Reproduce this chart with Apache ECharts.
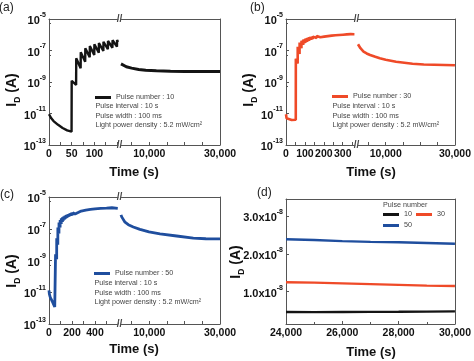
<!DOCTYPE html>
<html><head><meta charset="utf-8">
<script src="https://cdn.jsdelivr.net/npm/echarts@6/dist/echarts.min.js"></script>
<style>html,body{margin:0;padding:0;background:#fff}#c{width:474px;height:361px}</style>
</head><body><div id="c"></div>
<script>
// ---------- data (time in s, current in A) ----------
const logYLabels = [1e-13, 1e-11, 1e-9, 1e-7, 1e-5];
const aLeftLabels = [0, 50, 100];
const aLeftTicks = [0, 25, 50, 75, 100, 125, 150];
const bLeftLabels = [0, 100, 200, 300];
const bLeftTicks = [0, 50, 100, 150, 200, 250, 300, 350];
const cLeftLabels = [0, 200, 400];
const cLeftTicks = [0, 100, 200, 300, 400, 500, 600];
const rightLabels = [10000, 30000];
const rightTicks = [5000, 10000, 15000, 20000, 25000, 30000];
const dXLabels = [24000, 26000, 28000, 30000];
const dYLabels = [1e-8, 2e-8, 3e-8];

const blackLeft = [
 [0,9e-12],[5,5e-12],[10,3.3e-12],[20,1.9e-12],[30,1.2e-12],[40,8.5e-13],[49.7,7e-13],
 [50,1.2e-9],[59.7,6.5e-10],[60,3.2e-8],[69.7,7.4e-9],[70,7.7e-8],[79.7,1.95e-8],
 [80,1.4e-7],[89.7,3.7e-8],[90,1.9e-7],[99.7,5.2e-8],[100,2.5e-7],[109.7,7.2e-8],
 [110,3e-7],[119.7,9.3e-8],[120,3.6e-7],[129.7,1.2e-7],[130,4e-7],[139.7,1.5e-7],
 [140,4.5e-7],[149.7,1.75e-7],[150,4.7e-7],[152,3.5e-7]
];
const blackRight = [
 [2000,1.4e-8],[2500,1.15e-8],[3500,9.3e-9],[5000,7.6e-9],[7000,6.3e-9],[9000,5.6e-9],
 [12000,5.1e-9],[16000,4.8e-9],[20000,4.7e-9],[24000,4.6e-9],[27000,4.65e-9],[30000,4.7e-9]
];
const redLeft = [
 [0,9e-12],[3,5e-12],[8,4e-12],[30,3.9e-12],[51.7,4e-12],
 [52,3e-8],[61.7,1.5e-8],[62,1.7e-7],[71.7,6e-8],[72,3.2e-7],[81.7,1.4e-7],
 [82,4.2e-7],[91.7,2.3e-7],[92,5e-7],[101.7,3e-7],[102,5.6e-7],[111.7,3.6e-7],
 [112,6.2e-7],[121.7,4.2e-7],[122,6.8e-7],[131.7,4.8e-7],[132,7.2e-7],[141.7,5.3e-7],
 [142,7.6e-7],[151.7,5.8e-7],[152,8e-7],[161.7,6.2e-7],[162,8.4e-7],[171.7,6.6e-7],
 [172,8.7e-7],[181.7,7e-7],[182,9e-7],[191.7,7.3e-7],[192,9.3e-7],[201.7,7.6e-7],
 [202,9.6e-7],[211.7,7.9e-7],[212,9.9e-7],[221.7,8.2e-7],[222,1.02e-6],[231.7,8.5e-7],
 [232,1.05e-6],[241.7,8.8e-7],[242,1.08e-6],[251.7,9.1e-7],[252,1.1e-6],[261.7,9.3e-7],
 [262,1.12e-6],[271.7,9.5e-7],[272,1.14e-6],[281.7,9.7e-7],[282,1.16e-6],[291.7,9.9e-7],
 [292,1.18e-6],[301.7,1.01e-6],[302,1.2e-6],[311.7,1.03e-6],[312,1.22e-6],[321.7,1.05e-6],
 [322,1.24e-6],[331.7,1.07e-6],[332,1.26e-6],[341.7,1.09e-6],[342,1.28e-6],[352,1.12e-6],[362,1.08e-6]
];
const redRight = [
 [2000,2.5e-7],[2300,1.9e-7],[2700,1.4e-7],[3600,8.5e-8],[4500,6.5e-8],[5500,5.2e-8],
 [7000,4e-8],[8300,3.2e-8],[10000,2.6e-8],[13000,1.95e-8],[17750,1.45e-8],[21000,1.3e-8],
 [24000,1.25e-8],[27000,1.2e-8],[30000,1.15e-8]
];
const blueLeft = [
 [0,1.3e-11],[3,8e-12],[10,5e-12],[20,3.5e-12],[30,2.5e-12],[40,1.7e-12],[50,1.2e-12],[56.7,1.1e-12],
 [57,2.5e-9],[66.7,1.2e-9],[67,2.5e-8],[76.7,1e-8],[77,1.2e-7],[86.7,5e-8],
 [87,2.5e-7],[96.7,1.2e-7],[97,3.6e-7],[106.7,2e-7],[107,4.5e-7],[116.7,2.7e-7],
 [117,5.3e-7],[126.7,3.3e-7],[127,6e-7],[136.7,3.9e-7],[137,6.6e-7],[146.7,4.4e-7],
 [147,7.2e-7],[156.7,5e-7],[157,7.8e-7],[166.7,5.5e-7],[167,8.3e-7],[176.7,6e-7],
 [177,8.8e-7],[186.7,6.5e-7],[187,9.3e-7],[196.7,7e-7],[197,9.8e-7],[206.7,7.5e-7],
 [207,1.02e-6],[216.7,8e-7],[217,1.06e-6],[226.7,8.4e-7],[227,1.1e-6],
 [240,1.1e-6],[280,1.3e-6],[320,1.5e-6],[360,1.65e-6],[400,1.78e-6],[450,1.9e-6],
 [500,2e-6],[547,2.1e-6],[560,2e-6],[598,1.95e-6]
];
const blueRight = [
 [2000,7.5e-7],[2200,5.6e-7],[2470,4.3e-7],[3130,2.6e-7],[4070,1.8e-7],[5480,1.3e-7],
 [7370,9.1e-8],[9920,6.3e-8],[13030,4.7e-8],[17750,3.5e-8],[22450,2.6e-8],[26000,2.35e-8],[30000,2.27e-8]
];
const dBlack = [[24000,4.6e-9],[25000,4.55e-9],[26000,4.6e-9],[27000,4.62e-9],[28000,4.65e-9],[29000,4.7e-9],[30000,4.75e-9]];
const dRed = [[24000,1.25e-8],[25000,1.24e-8],[26000,1.22e-8],[27000,1.2e-8],[28000,1.18e-8],[29000,1.16e-8],[30000,1.15e-8]];
const dBlue = [[24000,2.39e-8],[25000,2.37e-8],[26000,2.34e-8],[27000,2.32e-8],[28000,2.31e-8],[29000,2.29e-8],[30000,2.27e-8]];

// ---------- styling / layout ----------
const FONT = '"Liberation Sans", Arial, sans-serif';
const AX = '#555';
const BLACK = '#141414', RED = '#ef4a28', BLUE = '#1f4e9e';
const TXT = '#444';

const grids = [
 {left:49, top:19, width:69, height:126},
 {left:121, top:19, width:99, height:126},
 {left:286, top:19, width:69, height:126},
 {left:358, top:19, width:99, height:126},
 {left:49, top:197, width:69, height:127},
 {left:121, top:197, width:99, height:127},
 {left:286, top:199, width:171, height:125}
];

const richY = {
 b:{fontSize:11, fontWeight:'bold', fontFamily:FONT, color:'#111', lineHeight:15, verticalAlign:'bottom'},
 s:{fontSize:7, fontWeight:'bold', fontFamily:FONT, color:'#111', lineHeight:7, verticalAlign:'top'}
};
const comma = v => Number(v).toLocaleString('en-US');

function xBottom(g, min, max, labels, ticks, minor){
 return {type:'value', gridIndex:g, position:'bottom', min, max,
  axisLine:{show:true, onZero:false, lineStyle:{color:AX, width:1}},
  axisTick:ticks ? {show:true, inside:true, length:3, customValues:ticks, lineStyle:{color:AX}}
                 : {show:true, inside:true, length:3, lineStyle:{color:AX}},
  minorTick:{show:!!minor, splitNumber:2, length:2, lineStyle:{color:AX}},
  axisLabel:{customValues:labels, margin:4, fontSize:10.5, fontWeight:'bold', fontFamily:FONT, color:'#111', formatter:comma},
  splitLine:{show:false}};
}
function xTop(g, min, max){
 return {type:'value', gridIndex:g, position:'top', min, max,
  axisLine:{show:true, onZero:false, lineStyle:{color:AX, width:1}},
  axisTick:{show:false}, axisLabel:{show:false}, splitLine:{show:false}};
}
function logY(g, pos, labels){
 return {type:'log', logBase:10, gridIndex:g, position:pos, min:1e-13, max:1e-5, interval:2,
  axisLine:{show:true, onZero:false, lineStyle:{color:AX, width:1}},
  axisTick:{show:labels, inside:true, length:3, lineStyle:{color:AX}},
  minorTick:{show:labels, splitNumber:2, length:2, lineStyle:{color:AX}},
  axisLabel:{show:labels, margin:3, rich:richY,
    formatter: v => '{b|10}{s|' + Math.round(Math.log10(v)) + '}'},
  splitLine:{show:false}, minorSplitLine:{show:false}};
}

const xAxis = [
 xBottom(0, 0, 152, aLeftLabels, aLeftTicks), xTop(0, 0, 152),
 xBottom(1, 2000, 30000, rightLabels, rightTicks), xTop(1, 2000, 30000),
 xBottom(2, 0, 365, bLeftLabels, bLeftTicks), xTop(2, 0, 365),
 xBottom(3, 2000, 30000, rightLabels, rightTicks), xTop(3, 2000, 30000),
 xBottom(4, 0, 600, cLeftLabels, cLeftTicks), xTop(4, 0, 600),
 xBottom(5, 2000, 30000, rightLabels, rightTicks), xTop(5, 2000, 30000),
 xBottom(6, 24000, 30000, dXLabels, dXLabels, true), xTop(6, 24000, 30000)
];
xAxis[12].axisTick = {show:true, inside:true, length:3, lineStyle:{color:AX}};
xAxis[12].interval = 2000;
delete xAxis[12].axisLabel.customValues;

const yAxis = [
 logY(0,'left',true), logY(1,'right',false),
 logY(2,'left',true), logY(3,'right',false),
 logY(4,'left',true), logY(5,'right',false),
 {type:'value', gridIndex:6, position:'left', min:1.4e-9, max:3.46e-8,
  axisLine:{show:true, onZero:false, lineStyle:{color:AX}},
  axisTick:{show:true, inside:true, length:3, customValues:dYLabels, lineStyle:{color:AX}},
  axisLabel:{customValues:dYLabels, margin:3, rich:richY,
   formatter: v => '{b|' + (v/1e-8).toFixed(1) + 'x10}{s|-8}'},
  splitLine:{show:false}},
 {type:'value', gridIndex:6, position:'right', min:1.4e-9, max:3.46e-8,
  axisLine:{show:true, onZero:false, lineStyle:{color:AX}},
  axisTick:{show:false}, axisLabel:{show:false}, splitLine:{show:false}}
];

function line(name, data, xi, yi, color, w){
 return {type:'line', name, data, xAxisIndex:xi, yAxisIndex:yi, showSymbol:false, symbol:'none',
  lineStyle:{color, width:w}, itemStyle:{color}, animation:false, clip:true};
}
const series = [
 line('Pulse number : 10', blackLeft, 0, 0, BLACK, 2.4),
 line('Pulse number : 10', blackRight, 2, 1, BLACK, 3),
 line('Pulse number : 30', redLeft, 4, 2, RED, 2.6),
 line('Pulse number : 30', redRight, 6, 3, RED, 2.6),
 line('Pulse number : 50', blueLeft, 8, 4, BLUE, 2.8),
 line('Pulse number : 50', blueRight, 10, 5, BLUE, 2.8),
 line('10', dBlack, 12, 6, BLACK, 2.4),
 line('30', dRed, 12, 6, RED, 2.4),
 line('50', dBlue, 12, 6, BLUE, 2.4)
];

const legText = {fontSize:7.2, color:TXT, fontFamily:FONT};
function leg(names, left, top, extra){
 return Object.assign({data:names, left, top, orient:'horizontal', itemWidth:16, itemHeight:3, icon:'rect',
  itemGap:5, padding:0, textStyle:legText, selectedMode:false}, extra || {});
}
const legend = [
 leg(['Pulse number : 10'], 95, 94),
 leg(['Pulse number : 30'], 332, 93),
 leg(['Pulse number : 50'], 94, 270),
 leg(['10','30','50'], 383, 211, {width:66, itemGap:4})
];

// ---------- text elements ----------
const g = [];
function txt(x, y, text, style, extra){
 g.push(Object.assign({type:'text', x, y, silent:true,
  style:Object.assign({text, fontFamily:FONT, fill:'#111', align:'left', verticalAlign:'middle'}, style)}, extra || {}));
}
// panel tags
txt(-1, 8, '(a)', {fontSize:12, fill:'#222'});
txt(250, 8, '(b)', {fontSize:12, fill:'#222'});
txt(0, 195, '(c)', {fontSize:12, fill:'#222'});
txt(257, 193, '(d)', {fontSize:12, fill:'#222'});
// x titles
const tStyle = {fontSize:13, fontWeight:'bold', align:'center'};
txt(134, 172, 'Time (s)', tStyle);
txt(371, 172, 'Time (s)', tStyle);
txt(134, 349, 'Time (s)', tStyle);
txt(371, 352, 'Time (s)', tStyle);
// y titles
const yRich = {
 m:{fontSize:14, fontWeight:'bold', fontFamily:FONT, fill:'#111', lineHeight:17, verticalAlign:'top'},
 d:{fontSize:8.5, fontWeight:'bold', fontFamily:FONT, fill:'#111', lineHeight:9, verticalAlign:'bottom'}
};
function ytitle(x, y){ txt(x, y, '{m|I}{d|D}{m| (A)}', {rich:yRich, align:'center'}, {rotation:Math.PI/2}); }
ytitle(14, 90); ytitle(251, 90); ytitle(14, 271); ytitle(238, 262);
// break marks
function brk(x, y){ txt(x, y, '//', {fontSize:10, fontWeight:'bold', fill:'#444', align:'center', backgroundColor:'#fff', padding:[0,1]}); }
brk(119.5, 19); brk(119.5, 145); brk(356.5, 19); brk(356.5, 145); brk(119.5, 197); brk(119.5, 324);
// info lines
function info(x, y0){
 const s = {fontSize:7.2, fill:TXT};
 txt(x, y0, 'Pulse interval : 10 s', s);
 txt(x, y0 + 9.5, 'Pulse width : 100 ms', s);
 txt(x, y0 + 19, 'Light power density : 5.2 mW/cm\u00B2', s);
}
info(95.5, 106.5); info(332.5, 106.5); info(94.5, 283.5);
txt(383, 205, 'Pulse number', {fontSize:7.2, fill:TXT});

const chart = echarts.init(document.getElementById('c'), null, {renderer:'canvas'});
chart.setOption({animation:false, backgroundColor:'#fff', grid:grids, xAxis, yAxis, series, legend, graphic:g});
</script></body></html>
